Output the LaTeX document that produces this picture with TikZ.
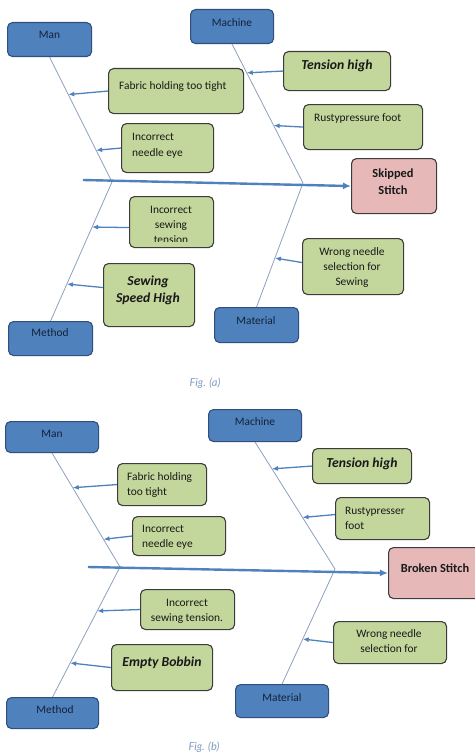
\documentclass[tikz,border=0pt]{standalone}
\usepackage{fontspec}
\setmainfont{Carlito}
\newfontfamily\capfont{Lato}
\usetikzlibrary{arrows.meta,calc}
\definecolor{boxblue}{HTML}{4F81BD}
\definecolor{blueedge}{HTML}{2F4F7F}
\definecolor{bluetext}{HTML}{14213A}
\definecolor{boxgreen}{HTML}{C3D69B}
\definecolor{boxedge}{HTML}{3C3C3C}
\definecolor{boxpink}{HTML}{E6B9B8}
\definecolor{bonecol}{HTML}{8DA0BF}
\definecolor{capcol}{HTML}{7F9CC0}
\begin{document}
\begin{tikzpicture}[x=1pt,y=-1pt,
  box/.style={rounded corners=5pt, line width=1.1pt, inner sep=0pt, anchor=north west},
  bluebox/.style={box, fill=boxblue, draw=blueedge},
  greenbox/.style={box, fill=boxgreen, draw=boxedge},
  pinkbox/.style={box, fill=boxpink, draw=boxedge},
  bone/.style={draw=bonecol, line width=0.8pt},
  spine/.style={draw=boxblue, line width=2.4pt, -{Latex[length=8pt,width=7pt]}},
  arr/.style={draw=boxblue, line width=1.3pt, -{Latex[length=6pt,width=5pt]}},
  txt/.style={inner sep=0pt, anchor=base, text=black!90, font=\fontsize{11.4}{15}\selectfont},
  txtl/.style={txt, anchor=base west},
  btxt/.style={txt, text=bluetext},
  bitxt/.style={txt, font=\fontsize{13.7}{17}\selectfont\bfseries\itshape},
  bdtxt/.style={txt, font=\fontsize{12.4}{16}\selectfont\bfseries},
  figcap/.style={inner sep=0pt, anchor=base, text=capcol, font=\capfont\itshape\fontsize{11}{13}\selectfont}
]
\useasboundingbox (0,0) rectangle (474,752);

% ================= Fig (a) =================
\node[bluebox, minimum width=84pt, minimum height=34pt] (man) at (7,22) {};
\node[bluebox, minimum width=83pt, minimum height=34pt] (machine) at (190,9) {};
\node[bluebox, minimum width=84pt, minimum height=34pt] (method) at (8,321) {};
\node[bluebox, minimum width=84pt, minimum height=35pt] (material) at (214,307) {};
\coordinate (j1a) at (112,182);
\coordinate (j2a) at (303,183);
\coordinate (sa) at (83,180);

\draw[bone] (man.south) -- (j1a) -- (method.north);
\draw[bone] (machine.south) -- (j2a) -- (material.north);

\node[greenbox, minimum width=135pt, minimum height=45pt] (fab) at (108,68) {};
\node[greenbox, minimum width=92pt, minimum height=49pt] (eye) at (121,123) {};
\node[greenbox, minimum width=107pt, minimum height=39pt] (tens) at (283,51) {};
\node[greenbox, minimum width=119pt, minimum height=45pt] (rusty) at (303,104) {};
\node[pinkbox, minimum width=85pt, minimum height=55pt] (skip) at (351,158) {};
\node[greenbox, minimum width=84pt, minimum height=51pt] (sew) at (129,196) {};
\node[greenbox, minimum width=91pt, minimum height=63pt] (speed) at (103,263) {};
\node[greenbox, minimum width=101pt, minimum height=56pt] (wrong) at (302,238) {};

\draw[spine] (sa) -- (skip.west);
\draw[arr] (fab.west) -- ($(man.south)!0.30!(j1a)$);
\draw[arr] (eye.west) -- ($(man.south)!0.746!(j1a)$);
\draw[arr] (tens.west) -- ($(machine.south)!0.207!(j2a)$);
\draw[arr] (rusty.west) -- ($(machine.south)!0.586!(j2a)$);
\draw[arr] ([yshift=-5.5pt]sew.west) -- ($(j1a)!0.324!(method.north)$);
\draw[arr] ([yshift=7.5pt]speed.west) -- ($(j1a)!0.734!(method.north)$);
\draw[arr] ([yshift=4pt]wrong.west) -- ($(j2a)!0.605!(material.north)$);

\node[btxt] (tman) at (49.5,38.5) {Man};
\node[btxt] (tmachine) at (232,26.5) {Machine};
\node[btxt] (tmethod) at (50,336.5) {Method};
\node[btxt] (tmaterial) at (256,324.5) {Material};
\node[txtl] (tfab) at (119,89.5) {Fabric holding too tight};
\node[txtl] (teye1) at (132,140.5) {Incorrect};
\node[txtl] (teye2) at (132,156.5) {needle eye};
\node[bitxt] (ttens) at (337,70) {Tension high};
\node[txtl] (trusty) at (314,121.5) {Rustypressure foot};
\node[bdtxt] (tskip1) at (393,177) {Skipped};
\node[bdtxt] (tskip2) at (393,194) {Stitch};
\node[txt] (tsew1) at (171,213.5) {Incorrect};
\node[txt] (tsew2) at (171,228.5) {sewing};
\begin{scope}
\clip (129,196) rectangle (213,241);
\node[txt] (tsew3) at (171,243.5) {tension};
\end{scope}
\node[bitxt] (tspeed1) at (148,285) {Sewing};
\node[bitxt] (tspeed2) at (148,302) {Speed High};
\node[txt] (twrong1) at (352,255.5) {Wrong needle};
\node[txt] (twrong2) at (352,270.5) {selection for};
\node[txt] (twrong3) at (352,285.5) {Sewing};
\node[figcap] (capa) at (205,386) {Fig. (a)};

% ================= Fig (b) =================
\node[bluebox, minimum width=93pt, minimum height=31pt] (man2) at (5,421) {};
\node[bluebox, minimum width=93pt, minimum height=32pt] (machine2) at (208,409) {};
\node[bluebox, minimum width=92pt, minimum height=31pt] (method2) at (6,697) {};
\node[bluebox, minimum width=93pt, minimum height=33pt] (material2) at (235,684) {};
\coordinate (j1b) at (120,567);
\coordinate (j2b) at (335,569);
\coordinate (sb) at (88,567);

\draw[bone] (man2.south) -- (j1b) -- (method2.north);
\draw[bone] (machine2.south) -- (j2b) -- (material2.north);

\node[greenbox, minimum width=89pt, minimum height=42pt] (fab2) at (117,463) {};
\node[greenbox, minimum width=93pt, minimum height=39pt] (eye2) at (132,516) {};
\node[greenbox, minimum width=99pt, minimum height=35pt] (tens2) at (312,448) {};
\node[greenbox, minimum width=94pt, minimum height=42pt] (rusty2) at (335,497) {};
\node[pinkbox, minimum width=94pt, minimum height=51pt] (broken) at (388,547) {};
\node[greenbox, minimum width=94pt, minimum height=40pt] (sew2) at (140,589) {};
\node[greenbox, minimum width=101pt, minimum height=46pt] (bobbin) at (111,644) {};
\node[greenbox, minimum width=113pt, minimum height=42pt] (wrong2) at (333,621) {};

\draw[spine] (sb) -- (broken.west);
\draw[arr] (fab2.west) -- ($(man2.south)!0.304!(j1b)$);
\draw[arr] (eye2.west) -- ($(man2.south)!0.757!(j1b)$);
\draw[arr] (tens2.west) -- ($(machine2.south)!0.211!(j2b)$);
\draw[arr] ([yshift=4pt]rusty2.west) -- ($(machine2.south)!0.594!(j2b)$);
\draw[arr] (sew2.west) -- ($(j1b)!0.338!(method2.north)$);
\draw[arr] (bobbin.west) -- ($(j1b)!0.738!(method2.north)$);
\draw[arr] (wrong2.west) -- ($(j2b)!0.609!(material2.north)$);

\node[btxt] (tman2) at (52,437.5) {Man};
\node[btxt] (tmachine2) at (255,425.5) {Machine};
\node[btxt] (tmethod2) at (55,713.5) {Method};
\node[btxt] (tmaterial2) at (282,701.5) {Material};
\node[txtl] (tfab2a) at (127,480.5) {Fabric holding};
\node[txtl] (tfab2b) at (127,495.5) {too tight};
\node[txtl] (teye2a) at (142,532.5) {Incorrect};
\node[txtl] (teye2b) at (142,547.5) {needle eye};
\node[bitxt] (ttens2) at (362,467) {Tension high};
\node[txtl] (trusty2a) at (345,514.5) {Rustypresser};
\node[txtl] (trusty2b) at (345,529.5) {foot};
\node[bdtxt] (tbroken) at (435,572) {Broken Stitch};
\node[txt] (tsew2a) at (187,606.5) {Incorrect};
\node[txt] (tsew2b) at (187,621.5) {sewing tension.};
\node[bitxt] (tbobbin) at (162,666) {Empty Bobbin};
\node[txt] (twrong2a) at (389,637.5) {Wrong needle};
\node[txt] (twrong2b) at (389,652.5) {selection for};
\node[figcap] (capb) at (204,750) {Fig. (b)};
\end{tikzpicture}
\end{document}
